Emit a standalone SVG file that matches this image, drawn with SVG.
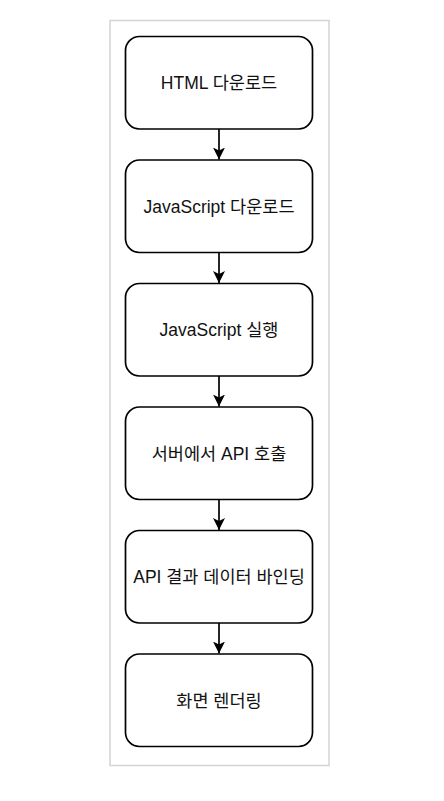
<svg xmlns="http://www.w3.org/2000/svg" width="444" height="801" viewBox="0 0 444 801">
<style>
.frame{fill:#ffffff;stroke:#d4d4d4;stroke-width:1.5}
.box{fill:#ffffff;stroke:#000000;stroke-width:1.7}
.lbl{font-family:"Liberation Sans","Noto Sans CJK KR",sans-serif;font-size:17.5px;fill:#111111;text-anchor:middle;dominant-baseline:central}
.edge{stroke:#000000;stroke-width:1.7;fill:none}
</style>
<defs>
<marker id="arr" markerWidth="14" markerHeight="14" refX="12" refY="6" orient="auto" markerUnits="userSpaceOnUse">
<path d="M0,0 L12,6 L0,12 L3,6 Z" fill="#000000"/>
</marker>
</defs>
<rect x="0" y="0" width="444" height="801" fill="#ffffff"/>
<rect class="frame" x="110" y="20.5" width="219" height="745"/>
<g id="connectors">
<line class="edge" x1="219" y1="129" x2="219" y2="159.5" marker-end="url(#arr)"/>
<line class="edge" x1="219" y1="252.5" x2="219" y2="283" marker-end="url(#arr)"/>
<line class="edge" x1="219" y1="376" x2="219" y2="406.5" marker-end="url(#arr)"/>
<line class="edge" x1="219" y1="499.5" x2="219" y2="530" marker-end="url(#arr)"/>
<line class="edge" x1="219" y1="623" x2="219" y2="653.5" marker-end="url(#arr)"/>
</g>
<g id="n1"><rect class="box" x="125.5" y="36.5" width="187" height="92.5" rx="14"/><text class="lbl" x="219" y="83">HTML 다운로드</text></g>
<g id="n2"><rect class="box" x="125.5" y="160" width="187" height="92.5" rx="14"/><text class="lbl" x="219" y="206.5">JavaScript 다운로드</text></g>
<g id="n3"><rect class="box" x="125.5" y="283.5" width="187" height="92.5" rx="14"/><text class="lbl" x="219" y="330">JavaScript 실행</text></g>
<g id="n4"><rect class="box" x="125.5" y="407" width="187" height="92.5" rx="14"/><text class="lbl" x="219" y="453.5">서버에서 API 호출</text></g>
<g id="n5"><rect class="box" x="125.5" y="530.5" width="187" height="92.5" rx="14"/><text class="lbl" x="219" y="577">API 결과 데이터 바인딩</text></g>
<g id="n6"><rect class="box" x="125.5" y="654" width="187" height="92.5" rx="14"/><text class="lbl" x="219" y="700.5">화면 렌더링</text></g>
</svg>
